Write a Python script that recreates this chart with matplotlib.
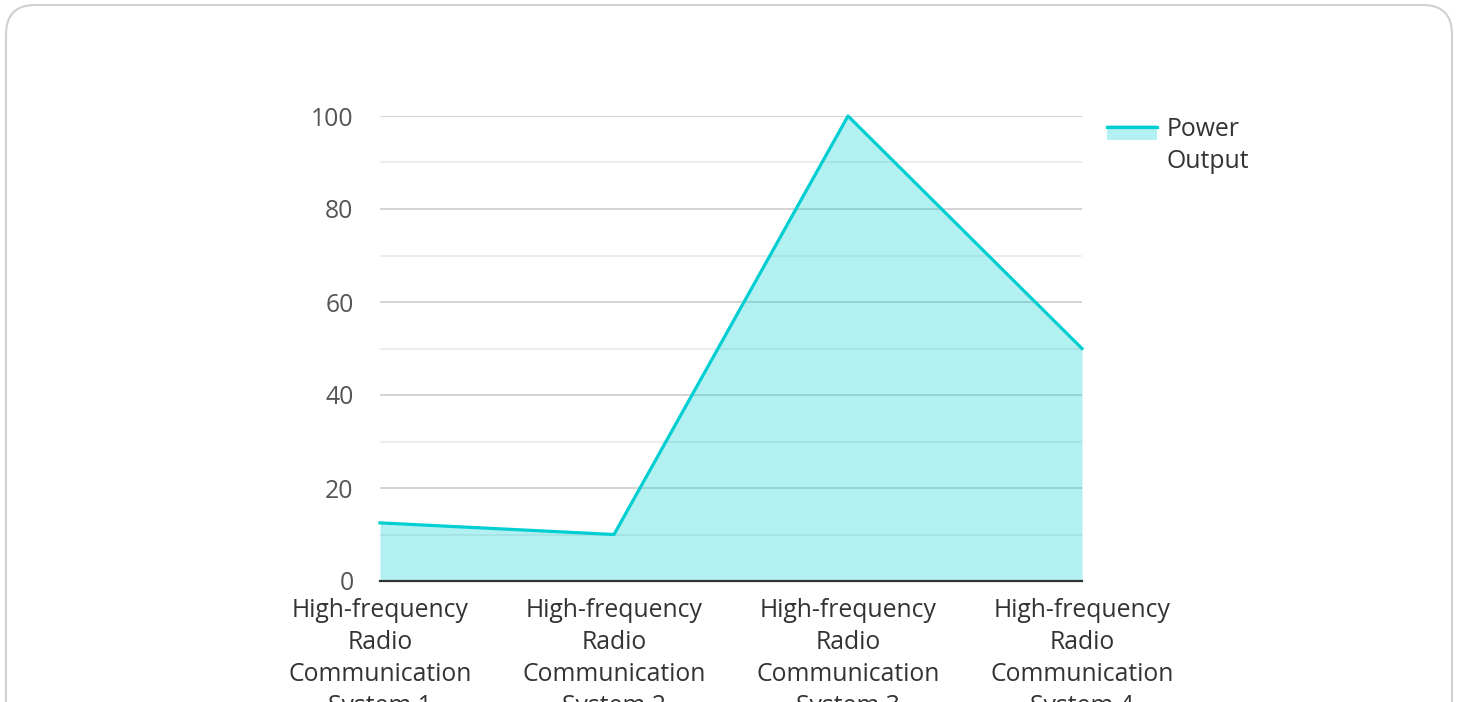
import matplotlib
matplotlib.use("Agg")
import matplotlib.pyplot as plt
from matplotlib.patches import FancyBboxPatch, Rectangle
from matplotlib.lines import Line2D

plt.rcParams['font.family'] = ['Open Sans', 'Noto Sans', 'DejaVu Sans']

# data
categories = ["High-frequency\nRadio\nCommunication\nSystem 1",
              "High-frequency\nRadio\nCommunication\nSystem 2",
              "High-frequency\nRadio\nCommunication\nSystem 3",
              "High-frequency\nRadio\nCommunication\nSystem 4"]
power_output = [12.5, 10, 100, 50]
series_name = "Power\nOutput"
y_ticks = [0, 20, 40, 60, 80, 100]

W, H = 1458, 702
line_col = "#00CED1"
fs = 17.8
fig = plt.figure(figsize=(W / 100, H / 100), dpi=100)

# card background
card = FancyBboxPatch((6 / W, -60 / H), 1446 / W, (H - 5 + 60) / H,
                      boxstyle="round,pad=0,rounding_size=0.02",
                      transform=fig.transFigure, facecolor="white",
                      edgecolor="#d0d0d0", linewidth=1.5, mutation_aspect=W / H,
                      zorder=-10)
fig.patches.append(card)

ax = fig.add_axes([380 / W, 1 - 581 / H, (1082 - 380) / W, (581 - 116) / H])
ax.patch.set_alpha(0)
x = list(range(len(categories)))
ax.fill_between(x, power_output, 0, color=line_col, alpha=0.3, linewidth=0, zorder=2)
ax.plot(x, power_output, color=line_col, linewidth=2.3, zorder=3, clip_on=False)

ax.set_xlim(0, len(categories) - 1)
ax.set_ylim(0, 100)
ax.set_yticks(y_ticks)
ax.set_yticks([10, 30, 50, 70, 90], minor=True)
ax.grid(axis="y", which="major", color="#c8c8c8", linewidth=1.1, zorder=1)
ax.grid(axis="y", which="minor", color="#e8e8e8", linewidth=1.1, zorder=1)
ax.set_axisbelow(True)
for s in ["top", "right", "left"]:
    ax.spines[s].set_visible(False)
ax.spines["bottom"].set_color("#333333")
ax.spines["bottom"].set_linewidth(1.6)
ax.spines["bottom"].set_zorder(4)
ax.tick_params(axis="y", which="both", length=0, pad=19, labelsize=fs, labelcolor="#555555")
ax.tick_params(axis="x", length=0, pad=12, labelsize=fs, labelcolor="#333333")
ax.set_xticks(x)
ax.set_xticklabels(categories, linespacing=1.38, va="top")

# legend
fig.patches.append(Rectangle((1107 / W, 1 - 140 / H), 50 / W, 15 / H,
                             transform=fig.transFigure, facecolor=line_col,
                             alpha=0.3, linewidth=0))
fig.lines.append(Line2D([1107 / W, 1157 / W], [1 - 127 / H, 1 - 127 / H],
                        transform=fig.transFigure, color=line_col, linewidth=2.3))
fig.text(1167 / W, 1 - 117 / H, series_name, fontsize=fs, color="#333333",
         va="top", ha="left", linespacing=1.38)

fig.savefig("out.png", dpi=100)
